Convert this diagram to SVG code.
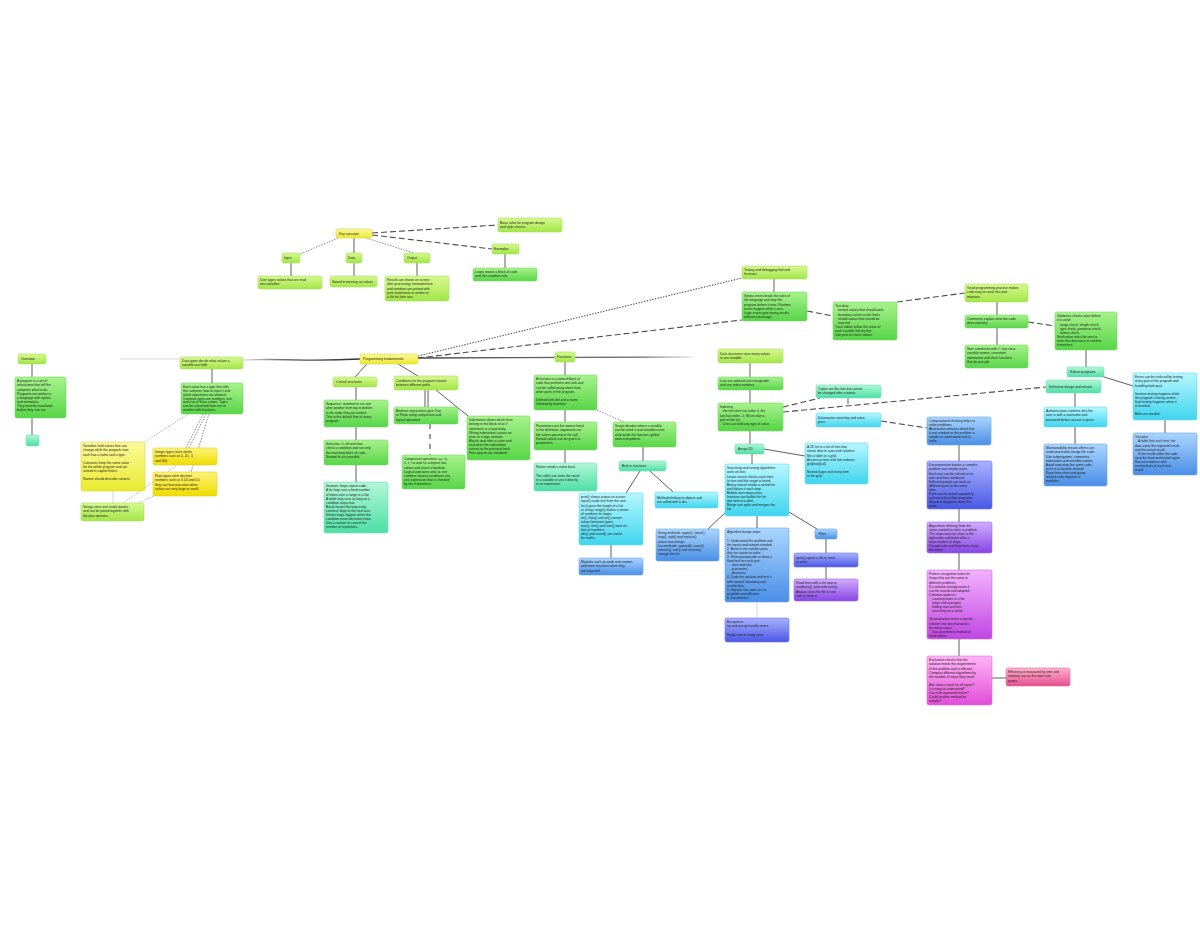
<svg xmlns="http://www.w3.org/2000/svg" width="1200" height="927" viewBox="0 0 1200 927">
<defs>
<linearGradient id="gYl" x1="0" y1="0" x2="0" y2="1"><stop offset="0" stop-color="#fbf99a"/><stop offset="1" stop-color="#eaea30"/></linearGradient>
<linearGradient id="gY2" x1="0" y1="0" x2="0" y2="1"><stop offset="0" stop-color="#fff37a"/><stop offset="1" stop-color="#eedc00"/></linearGradient>
<linearGradient id="gLm" x1="0" y1="0" x2="0" y2="1"><stop offset="0" stop-color="#d8f890"/><stop offset="1" stop-color="#a2e648"/></linearGradient>
<linearGradient id="gGr" x1="0" y1="0" x2="0" y2="1"><stop offset="0" stop-color="#a8f28c"/><stop offset="1" stop-color="#58d548"/></linearGradient>
<linearGradient id="gTl" x1="0" y1="0" x2="0" y2="1"><stop offset="0" stop-color="#b2f6d6"/><stop offset="1" stop-color="#4edfa6"/></linearGradient>
<linearGradient id="gCy" x1="0" y1="0" x2="0" y2="1"><stop offset="0" stop-color="#b8f7ff"/><stop offset="1" stop-color="#3fd5ee"/></linearGradient>
<linearGradient id="gBl" x1="0" y1="0" x2="0" y2="1"><stop offset="0" stop-color="#aad6ff"/><stop offset="1" stop-color="#4a8ee6"/></linearGradient>
<linearGradient id="gIn" x1="0" y1="0" x2="0" y2="1"><stop offset="0" stop-color="#aab2ff"/><stop offset="1" stop-color="#4a58e4"/></linearGradient>
<linearGradient id="gPu" x1="0" y1="0" x2="0" y2="1"><stop offset="0" stop-color="#d2acff"/><stop offset="1" stop-color="#8846e4"/></linearGradient>
<linearGradient id="gMg" x1="0" y1="0" x2="0" y2="1"><stop offset="0" stop-color="#f4b2ff"/><stop offset="1" stop-color="#c046e2"/></linearGradient>
<linearGradient id="gPm" x1="0" y1="0" x2="0" y2="1"><stop offset="0" stop-color="#ffb4f4"/><stop offset="1" stop-color="#e04ed6"/></linearGradient>
<linearGradient id="gPk" x1="0" y1="0" x2="0" y2="1"><stop offset="0" stop-color="#ffb2cc"/><stop offset="1" stop-color="#e44e90"/></linearGradient>
<linearGradient id="gFade" gradientUnits="userSpaceOnUse" x1="418" y1="0" x2="692" y2="0"><stop offset="0" stop-color="#444"/><stop offset="0.8" stop-color="#777"/><stop offset="1" stop-color="#e8e8e8"/></linearGradient>
<linearGradient id="gFade2" gradientUnits="userSpaceOnUse" x1="243" y1="0" x2="360" y2="0"><stop offset="0" stop-color="#ddd"/><stop offset="0.4" stop-color="#555"/><stop offset="1" stop-color="#333"/></linearGradient>
</defs>
<style>
rect{stroke-width:0.6}
.yl{fill:url(#gYl);stroke:#dcd640}
.y2{fill:url(#gY2);stroke:#e0d020}
.lm{fill:url(#gLm);stroke:#a6e060}
.gr{fill:url(#gGr);stroke:#74d862}
.tl{fill:url(#gTl);stroke:#70e0b4}
.cy{fill:url(#gCy);stroke:#60d8ee}
.bl{fill:url(#gBl);stroke:#6aa2ea}
.in{fill:url(#gIn);stroke:#6a74ea}
.pu{fill:url(#gPu);stroke:#9a66e8}
.mg{fill:url(#gMg);stroke:#c468e6}
.pm{fill:url(#gPm);stroke:#e06ad8}
.pk{fill:url(#gPk);stroke:#e46c9e}
text{font-family:"Liberation Sans",Arial,sans-serif;font-size:3.3px;fill:#1b1b1b}
#connectors path{fill:none;stroke:#4c4c4c;stroke-width:0.9}
#connectors .da{stroke-dasharray:6 3;stroke-width:1.1}
#connectors .dt{stroke-dasharray:1.4 1.4;stroke:#777}
#connectors .lt{stroke:#c8c8c8;stroke-width:0.7}
</style>
<rect x="0" y="0" width="1200" height="927" fill="#ffffff" stroke="none"/>

<g id="connectors">
<path class="da" d="M372,233 L498,225"/>
<path class="da" d="M372,235 L492,249"/>
<path class="dt" d="M338,238 L300,254"/>
<path d="M354,238 V253"/>
<path class="dt" d="M366,238 L414,253"/>
<path d="M291,263 V276"/>
<path d="M354,263 V276"/>
<path d="M417,263 V276"/>
<path d="M505,254 V268"/>
<path d="M32,364 V377"/>
<path d="M32,418 V435"/>
<path class="lt" d="M120,359 L180,359"/>
<path d="M212,369 V383"/>
<path d="M243,360 C290,358 300,362 360,359" style="stroke:url(#gFade2);stroke-width:1.3"/>
<path class="dt" d="M188,414 L143,443" style="stroke:#aaa"/>
<path class="dt" d="M203,414 L186,448"/>
<path class="dt" d="M206,414 L189,448"/>
<path class="dt" d="M209,414 L191,472"/>
<path class="dt" d="M176,466 L123,503" style="stroke:#aaa"/>
<path class="dt" d="M156,495 L138,503" style="stroke:#aaa"/>
<path class="lt" d="M113,491 V503"/>
<path d="M367,364 L355,377"/>
<path d="M398,364 L418,376"/>
<path d="M356,387 V400"/>
<path d="M356,427 V440"/>
<path d="M356,465 V482"/>
<path d="M425,390 V407"/>
<path d="M428,390 V407"/>
<path d="M436,390 L468,416"/>
<path class="da" d="M430,424 V455" style="stroke-dasharray:5 5"/>
<path class="dt" d="M418,356 L742,278" style="stroke-width:1.1;stroke:#555"/>
<path class="da" d="M418,358 L742,320"/>
<path d="M418,358 L692,357" style="stroke:url(#gFade);stroke-width:1.3"/>
<path d="M565,362 V375"/>
<path d="M565,410 V422"/>
<path d="M565,450 V463"/>
<path class="dt" d="M597,410 L624,422"/>
<path d="M643,447 V461"/>
<path d="M640,471 L626,493"/>
<path d="M650,471 L673,492"/>
<path d="M611,545 V558"/>
<path d="M774,279 V292"/>
<path class="da" d="M807,311 L833,316"/>
<path class="da" d="M897,302 L965,293"/>
<path d="M750,363 V377"/>
<path d="M750,390 V403"/>
<path d="M750,431 V444"/>
<path class="da" d="M783,407 L820,398"/>
<path class="da" d="M783,412 L1046,387"/>
<path d="M848,398 V404"/>
<path class="da" d="M881,421 L927,428"/>
<path d="M764,449 L805,456"/>
<path d="M752,454 V464"/>
<path d="M727,511 L708,529"/>
<path d="M757,516 V528"/>
<path d="M789,512 L817,529"/>
<path d="M826,539 V553"/>
<path d="M826,567 V579"/>
<path class="lt" d="M757,602 V618"/>
<path d="M997,302 V315"/>
<path d="M997,328 V345"/>
<path class="da" d="M1028,322 L1055,326"/>
<path d="M1086,350 V367"/>
<path d="M1101,376 L1133,386"/>
<path d="M1075,393 V407"/>
<path d="M1075,427 V444"/>
<path d="M1165,420 V433"/>
<path d="M959,445 V461"/>
<path d="M959,509 V522"/>
<path d="M959,553 V570"/>
<path d="M959,639 V656"/>
<path d="M992,678 L1006,678"/>
</g>

<g id="n1"><rect x="336" y="229" width="36" height="9" rx="2" class="yl"/><text x="339" y="234.8">Key concepts</text></g>
<g id="n2"><rect x="498" y="218" width="64" height="14" rx="2" class="lm"/><text x="500" y="223.5"><tspan x="500">Basic rules for program design</tspan><tspan x="500" dy="4.1">and style choices</tspan></text></g>
<g id="n3"><rect x="492" y="244" width="27" height="10" rx="2" class="lm"/><text x="494" y="250.2">Examples</text></g>
<g id="n4"><rect x="473" y="268" width="64" height="13" rx="2" class="gr"/><text x="475" y="273.3"><tspan x="475">Loops repeat a block of code</tspan><tspan x="475" dy="4.1">until the condition fails</tspan></text></g>
<g id="n5"><rect x="282" y="253" width="18" height="10" rx="2" class="lm"/><text x="284" y="259.2">Input</text></g>
<g id="n6"><rect x="346" y="253" width="16" height="10" rx="2" class="lm"/><text x="348" y="259.2">Data</text></g>
<g id="n7"><rect x="404" y="253" width="26" height="10" rx="2" class="lm"/><text x="407" y="259.2">Output</text></g>
<g id="n8"><rect x="258" y="276" width="64" height="13" rx="2" class="lm"/><text x="260" y="281.3"><tspan x="260">User types values that are read</tspan><tspan x="260" dy="4.1">into variables</tspan></text></g>
<g id="n9"><rect x="330" y="276" width="47" height="11" rx="2" class="lm"/><text x="332" y="282.6">Stored in memory as values</text></g>
<g id="n10"><rect x="385" y="276" width="64" height="25" rx="2" class="lm"/><text x="387" y="281.3"><tspan x="387">Results are shown on screen</tspan><tspan x="387" dy="4.1">after processing; formatted text</tspan><tspan x="387" dy="4.1">and numbers are printed with</tspan><tspan x="387" dy="4.1">print statements or written to</tspan><tspan x="387" dy="4.1">a file for later use.</tspan></text></g>

<g id="n11"><rect x="18" y="354" width="28" height="10" rx="2" class="lm"/><text x="21" y="360.2">Overview</text></g>
<g id="n12"><rect x="15" y="377" width="51" height="41" rx="2" class="gr"/><text x="17" y="382.3"><tspan x="17">A program is a set of</tspan><tspan x="17" dy="4.1">instructions that tell the</tspan><tspan x="17" dy="4.1">computer what to do.</tspan><tspan x="17" dy="4.1">Programs are written in</tspan><tspan x="17" dy="4.1">a language with syntax</tspan><tspan x="17" dy="4.1">and semantics.</tspan><tspan x="17" dy="4.1">They must be translated</tspan><tspan x="17" dy="4.1">before they can run.</tspan></text></g>
<g id="n13"><rect x="26" y="435" width="13" height="11" rx="2" class="tl"/></g>
<g id="n14"><rect x="81" y="442" width="64" height="49" rx="2" class="yl"/><text x="83" y="447.3"><tspan x="83">Variables hold values that can</tspan><tspan x="83" dy="4.1">change while the program runs;</tspan><tspan x="83" dy="4.1">each has a name and a type.</tspan><tspan x="83" dy="8.2">Constants keep the same value</tspan><tspan x="83" dy="4.1">for the whole program and are</tspan><tspan x="83" dy="4.1">named in capital letters.</tspan><tspan x="83" dy="8.2">Names should describe content.</tspan></text></g>
<g id="n15"><rect x="153" y="448" width="64" height="17" rx="2" class="y2"/><text x="155" y="453.3"><tspan x="155">Integer types store whole</tspan><tspan x="155" dy="4.1">numbers such as 1, 20, -5</tspan><tspan x="155" dy="4.1">and 300.</tspan></text></g>
<g id="n16"><rect x="153" y="472" width="64" height="24" rx="2" class="y2"/><text x="155" y="477.3"><tspan x="155">Float types store decimal</tspan><tspan x="155" dy="4.1">numbers such as 3.14 and 0.5;</tspan><tspan x="155" dy="4.1">they can lose precision when</tspan><tspan x="155" dy="4.1">values are very large or small.</tspan></text></g>
<g id="n17"><rect x="81" y="503" width="63" height="18" rx="2" class="lm"/><text x="83" y="508.3"><tspan x="83">Strings store text inside quotes</tspan><tspan x="83" dy="4.1">and can be joined together with</tspan><tspan x="83" dy="4.1">the plus operator.</tspan></text></g>
<g id="n18"><rect x="180" y="357" width="63" height="12" rx="2" class="lm"/><text x="182" y="362"><tspan x="182">Data types decide what values a</tspan><tspan x="182" dy="4.1">variable can hold</tspan></text></g>
<g id="n19"><rect x="181" y="383" width="62" height="31" rx="2" class="gr"/><text x="183" y="387.8"><tspan x="183">Each value has a type that tells</tspan><tspan x="183" dy="3.9">the computer how to store it and</tspan><tspan x="183" dy="3.9">which operations are allowed.</tspan><tspan x="183" dy="3.9">Common types are numbers, text,</tspan><tspan x="183" dy="3.9">and true or false values. Types</tspan><tspan x="183" dy="3.9">can be converted from one to</tspan><tspan x="183" dy="3.9">another with functions.</tspan></text></g>

<g id="n20"><rect x="360" y="354" width="58" height="10" rx="2" class="yl"/><text x="363" y="360.2">Programming fundamentals</text></g>
<g id="n21"><rect x="333" y="377" width="44" height="10" rx="2" class="lm"/><text x="336" y="383.2">Control structures</text></g>
<g id="n22"><rect x="394" y="376" width="64" height="14" rx="2" class="lm"/><text x="396" y="381.5"><tspan x="396">Conditions let the program choose</tspan><tspan x="396" dy="4.1">between different paths</tspan></text></g>
<g id="n23"><rect x="324" y="400" width="64" height="27" rx="2" class="gr"/><text x="326" y="405.3"><tspan x="326">Sequence: statements run one</tspan><tspan x="326" dy="4.1">after another from top to bottom</tspan><tspan x="326" dy="4.1">in the order they are written.</tspan><tspan x="326" dy="4.1">This is the default flow of every</tspan><tspan x="326" dy="4.1">program.</tspan></text></g>
<g id="n24"><rect x="324" y="440" width="64" height="25" rx="2" class="gr"/><text x="326" y="445.3"><tspan x="326">Selection: if, elif and else</tspan><tspan x="326" dy="4.1">check a condition and run only</tspan><tspan x="326" dy="4.1">the matching block of code.</tspan><tspan x="326" dy="4.1">Nested ifs are possible.</tspan></text></g>
<g id="n25"><rect x="324" y="482" width="64" height="51" rx="2" class="tl"/><text x="326" y="487.3"><tspan x="326">Iteration: loops repeat code.</tspan><tspan x="326" dy="4.1">A for loop runs a fixed number</tspan><tspan x="326" dy="4.1">of times over a range or a list.</tspan><tspan x="326" dy="4.1">A while loop runs as long as a</tspan><tspan x="326" dy="4.1">condition stays true.</tspan><tspan x="326" dy="4.1">Break leaves the loop early;</tspan><tspan x="326" dy="4.1">continue skips to the next turn.</tspan><tspan x="326" dy="4.1">Infinite loops happen when the</tspan><tspan x="326" dy="4.1">condition never becomes false.</tspan><tspan x="326" dy="4.1">Use a counter to control the</tspan><tspan x="326" dy="4.1">number of repetitions.</tspan></text></g>
<g id="n26"><rect x="394" y="407" width="64" height="17" rx="2" class="gr"/><text x="396" y="412.3"><tspan x="396">Boolean expressions give True</tspan><tspan x="396" dy="4.1">or False using comparison and</tspan><tspan x="396" dy="4.1">logical operators</tspan></text></g>
<g id="n27"><rect x="402" y="455" width="63" height="34" rx="2" class="gr"/><text x="404" y="460.3"><tspan x="404">Comparison operators: ==, !=,</tspan><tspan x="404" dy="4.1">&lt;, &gt;, &lt;= and &gt;= compare two</tspan><tspan x="404" dy="4.1">values and return a boolean.</tspan><tspan x="404" dy="4.1">Logical operators and, or, not</tspan><tspan x="404" dy="4.1">combine several conditions into</tspan><tspan x="404" dy="4.1">one expression that is checked</tspan><tspan x="404" dy="4.1">by the if statement.</tspan></text></g>
<g id="n28"><rect x="467" y="416" width="63" height="44" rx="2" class="gr"/><text x="469" y="421.3"><tspan x="469">Indentation shows which lines</tspan><tspan x="469" dy="4.1">belong to the block of an if</tspan><tspan x="469" dy="4.1">statement or a loop body.</tspan><tspan x="469" dy="4.1">Wrong indentation causes an</tspan><tspan x="469" dy="4.1">error or a logic mistake.</tspan><tspan x="469" dy="4.1">Blocks start after a colon and</tspan><tspan x="469" dy="4.1">end when the indentation</tspan><tspan x="469" dy="4.1">returns to the previous level.</tspan><tspan x="469" dy="4.1">Four spaces are standard.</tspan></text></g>

<g id="n29"><rect x="555" y="352" width="20" height="10" rx="2" class="lm"/><text x="557" y="358.2">Functions</text></g>
<g id="n30"><rect x="534" y="375" width="63" height="35" rx="2" class="gr"/><text x="536" y="380.3"><tspan x="536">A function is a named block of</tspan><tspan x="536" dy="4.1">code that performs one task and</tspan><tspan x="536" dy="4.1">can be called many times from</tspan><tspan x="536" dy="4.1">other parts of the program.</tspan><tspan x="536" dy="8.2">Defined with def and a name</tspan><tspan x="536" dy="4.1">followed by brackets.</tspan></text></g>
<g id="n31"><rect x="534" y="422" width="63" height="28" rx="2" class="gr"/><text x="536" y="427.3"><tspan x="536">Parameters are the names listed</tspan><tspan x="536" dy="4.1">in the definition; arguments are</tspan><tspan x="536" dy="4.1">the values passed in the call.</tspan><tspan x="536" dy="4.1">Default values can be given to</tspan><tspan x="536" dy="4.1">parameters.</tspan></text></g>
<g id="n32"><rect x="534" y="463" width="63" height="28" rx="2" class="tl"/><text x="536" y="468.3"><tspan x="536">Return sends a value back</tspan><tspan x="536" dy="8.2">The caller can store the result</tspan><tspan x="536" dy="4.1">in a variable or use it directly</tspan><tspan x="536" dy="4.1">in an expression.</tspan></text></g>
<g id="n33"><rect x="613" y="422" width="63" height="25" rx="2" class="gr"/><text x="615" y="427.3"><tspan x="615">Scope decides where a variable</tspan><tspan x="615" dy="4.1">can be used. Local variables exist</tspan><tspan x="615" dy="4.1">only inside the function; global</tspan><tspan x="615" dy="4.1">ones everywhere.</tspan></text></g>
<g id="n34"><rect x="619" y="461" width="47" height="10" rx="2" class="tl"/><text x="622" y="467.2">Built-in functions</text></g>
<g id="n35"><rect x="579" y="493" width="64" height="52" rx="2" class="cy"/><text x="581" y="498.3"><tspan x="581">print() shows output on screen</tspan><tspan x="581" dy="4.1">input() reads text from the user</tspan><tspan x="581" dy="4.1">len() gives the length of a list</tspan><tspan x="581" dy="4.1">or string; range() makes a series</tspan><tspan x="581" dy="4.1">of numbers for loops.</tspan><tspan x="581" dy="4.1">int(), float() and str() convert</tspan><tspan x="581" dy="4.1">values between types.</tspan><tspan x="581" dy="4.1">max(), min() and sum() work on</tspan><tspan x="581" dy="4.1">lists of numbers.</tspan><tspan x="581" dy="4.1">abs() and round() are useful</tspan><tspan x="581" dy="4.1">for maths.</tspan></text></g>
<g id="n36"><rect x="579" y="558" width="64" height="17" rx="2" class="bl"/><text x="581" y="563.3"><tspan x="581">Modules such as math and random</tspan><tspan x="581" dy="4.1">add more functions when they</tspan><tspan x="581" dy="4.1">are imported.</tspan></text></g>
<g id="n37"><rect x="655" y="492" width="63" height="16" rx="2" class="cy"/><text x="657" y="498.5"><tspan x="657">Methods belong to objects and</tspan><tspan x="657" dy="4.1">are called with a dot.</tspan></text></g>
<g id="n38"><rect x="656" y="529" width="63" height="32" rx="2" class="bl"/><text x="658" y="534.3"><tspan x="658">String methods: upper(), lower(),</tspan><tspan x="658" dy="4.1">strip(), split() and replace()</tspan><tspan x="658" dy="4.1">return new strings.</tspan><tspan x="658" dy="4.1">List methods: append(), insert(),</tspan><tspan x="658" dy="4.1">remove(), sort() and reverse()</tspan><tspan x="658" dy="4.1">change the list.</tspan></text></g>

<g id="n39"><rect x="742" y="266" width="65" height="13" rx="2" class="lm"/><text x="744" y="271.3"><tspan x="744">Testing and debugging find and</tspan><tspan x="744" dy="4.1">fix errors</tspan></text></g>
<g id="n40"><rect x="742" y="292" width="65" height="29" rx="2" class="gr"/><text x="744" y="297.3"><tspan x="744">Syntax errors break the rules of</tspan><tspan x="744" dy="4.1">the language and stop the</tspan><tspan x="744" dy="4.1">program before it runs. Runtime</tspan><tspan x="744" dy="4.1">errors happen while it runs.</tspan><tspan x="744" dy="4.1">Logic errors give wrong results</tspan><tspan x="744" dy="4.1">without a message.</tspan></text></g>
<g id="n41"><rect x="833" y="302" width="64" height="38" rx="2" class="gr"/><text x="835" y="307.3"><tspan x="835">Test data:</tspan><tspan x="838" dy="4.1">normal values that should work</tspan><tspan x="838" dy="4.1">boundary values at the limits</tspan><tspan x="838" dy="4.1">invalid values that should be</tspan><tspan x="838" dy="4.1">rejected</tspan><tspan x="835" dy="4.1">Trace tables follow the value of</tspan><tspan x="835" dy="4.1">each variable line by line.</tspan><tspan x="835" dy="4.1">Use print to check values.</tspan></text></g>
<g id="n42"><rect x="718" y="349" width="65" height="14" rx="2" class="lm"/><text x="720" y="354.5"><tspan x="720">Data structures store many values</tspan><tspan x="720" dy="4.1">in one variable</tspan></text></g>
<g id="n43"><rect x="718" y="377" width="65" height="13" rx="2" class="gr"/><text x="720" y="382.3"><tspan x="720">Lists are ordered and changeable</tspan><tspan x="720" dy="4.1">and use index numbers</tspan></text></g>
<g id="n44"><rect x="718" y="403" width="65" height="28" rx="2" class="gr"/><text x="720" y="408.3"><tspan x="720">Indexing:</tspan><tspan x="723" dy="4.1">the first item has index 0, the</tspan><tspan x="720" dy="4.1">last has index -1. Slices take a</tspan><tspan x="720" dy="4.1">part of the list.</tspan><tspan x="723" dy="4.1">Lists can hold any type of value.</tspan></text></g>
<g id="n45"><rect x="735" y="444" width="29" height="10" rx="2" class="tl"/><text x="738" y="450.2">Arrays 2D</text></g>
<g id="n46"><rect x="816" y="385" width="65" height="13" rx="2" class="tl"/><text x="818" y="390.3"><tspan x="818">Tuples are like lists but cannot</tspan><tspan x="818" dy="4.1">be changed after creation</tspan></text></g>
<g id="n47"><rect x="816" y="413" width="65" height="14" rx="2" class="cy"/><text x="818" y="418.5"><tspan x="818">Dictionaries store key and value</tspan><tspan x="818" dy="4.1">pairs</tspan></text></g>
<g id="n48"><rect x="805" y="443" width="63" height="41" rx="2" class="cy"/><text x="807" y="448.3"><tspan x="807">A 2D list is a list of lists that</tspan><tspan x="807" dy="4.1">stores data in rows and columns</tspan><tspan x="807" dy="4.1">like a table or a grid.</tspan><tspan x="807" dy="4.1">Access an item with two indexes:</tspan><tspan x="807" dy="4.1">grid[row][col].</tspan><tspan x="807" dy="8.2">Nested loops visit every item</tspan><tspan x="807" dy="4.1">in the grid.</tspan></text></g>
<g id="n49"><rect x="725" y="464" width="64" height="52" rx="2" class="cy"/><text x="727" y="469.3"><tspan x="727">Searching and sorting algorithms</tspan><tspan x="727" dy="4.1">work on lists:</tspan><tspan x="727" dy="4.1">Linear search checks each item</tspan><tspan x="727" dy="4.1">in turn until the target is found.</tspan><tspan x="727" dy="4.1">Binary search needs a sorted list</tspan><tspan x="727" dy="4.1">and halves it each step.</tspan><tspan x="727" dy="4.1">Bubble sort swaps pairs.</tspan><tspan x="727" dy="4.1">Insertion sort builds the list</tspan><tspan x="727" dy="4.1">one item at a time.</tspan><tspan x="727" dy="4.1">Merge sort splits and merges the</tspan><tspan x="727" dy="4.1">list.</tspan></text></g>
<g id="n50"><rect x="725" y="528" width="64" height="74" rx="2" class="bl"/><text x="727" y="533.3"><tspan x="727">Algorithm design steps</tspan><tspan x="727" dy="8.2">1. Understand the problem and</tspan><tspan x="727" dy="4.1">the inputs and outputs needed.</tspan><tspan x="727" dy="4.1">2. Break it into smaller parts</tspan><tspan x="727" dy="4.1">that are easier to solve.</tspan><tspan x="727" dy="4.1">3. Write pseudocode or draw a</tspan><tspan x="727" dy="4.1">flowchart for each part:</tspan><tspan x="730" dy="4.1">- start and end</tspan><tspan x="730" dy="4.1">- processes</tspan><tspan x="730" dy="4.1">- decisions</tspan><tspan x="727" dy="4.1">4. Code the solution and test it</tspan><tspan x="727" dy="4.1">with normal, boundary and</tspan><tspan x="727" dy="4.1">invalid data.</tspan><tspan x="727" dy="4.1">5. Improve the code so it is</tspan><tspan x="727" dy="4.1">readable and efficient.</tspan><tspan x="727" dy="4.1">6. Document it.</tspan></text></g>
<g id="n51"><rect x="815" y="529" width="22" height="10" rx="2" class="bl"/><text x="819" y="535.2">Files</text></g>
<g id="n52"><rect x="794" y="553" width="64" height="14" rx="2" class="in"/><text x="796" y="558.5"><tspan x="796">open() opens a file to read</tspan><tspan x="796" dy="4.1">or write</tspan></text></g>
<g id="n53"><rect x="794" y="579" width="64" height="22" rx="2" class="pu"/><text x="796" y="584.3"><tspan x="796">Read lines with a for loop or</tspan><tspan x="796" dy="4.1">readlines(); write with write().</tspan><tspan x="796" dy="4.1">Always close the file or use</tspan><tspan x="796" dy="4.1">with to close it.</tspan></text></g>
<g id="n54"><rect x="725" y="618" width="64" height="24" rx="2" class="in"/><text x="727" y="623.3"><tspan x="727">Exceptions</tspan><tspan x="727" dy="4.1">try and except handle errors</tspan><tspan x="727" dy="8.2">finally runs in every case.</tspan></text></g>

<g id="n55"><rect x="965" y="284" width="63" height="18" rx="2" class="lm"/><text x="967" y="289.3"><tspan x="967">Good programming practice makes</tspan><tspan x="967" dy="4.1">code easy to read, test and</tspan><tspan x="967" dy="4.1">maintain.</tspan></text></g>
<g id="n56"><rect x="965" y="315" width="63" height="13" rx="2" class="gr"/><text x="967" y="320.3"><tspan x="967">Comments explain what the code</tspan><tspan x="967" dy="4.1">does and why</tspan></text></g>
<g id="n57"><rect x="965" y="345" width="63" height="23" rx="2" class="gr"/><text x="967" y="350.3"><tspan x="967">Start comments with #. Use clear</tspan><tspan x="967" dy="4.1">variable names, consistent</tspan><tspan x="967" dy="4.1">indentation and short functions</tspan><tspan x="967" dy="4.1">that do one job.</tspan></text></g>
<g id="n58"><rect x="1055" y="312" width="62" height="38" rx="2" class="gr"/><text x="1057" y="317.3"><tspan x="1057">Validation checks input before</tspan><tspan x="1057" dy="4.1">it is used:</tspan><tspan x="1060" dy="4.1">range check, length check,</tspan><tspan x="1060" dy="4.1">type check, presence check,</tspan><tspan x="1060" dy="4.1">format check.</tspan><tspan x="1057" dy="4.1">Verification asks the user to</tspan><tspan x="1057" dy="4.1">enter the data twice to confirm</tspan><tspan x="1057" dy="4.1">it matches.</tspan></text></g>
<g id="n59"><rect x="1067" y="367" width="37" height="10" rx="2" class="tl"/><text x="1070" y="373.2">Robust programs</text></g>
<g id="n60"><rect x="1046" y="380" width="55" height="13" rx="2" class="tl"/><text x="1049" y="387.6">Defensive design and misuse</text></g>
<g id="n61"><rect x="1044" y="407" width="63" height="20" rx="2" class="cy"/><text x="1046" y="412.3"><tspan x="1046">Authentication confirms who the</tspan><tspan x="1046" dy="4.1">user is with a username and</tspan><tspan x="1046" dy="4.1">password before access is given.</tspan></text></g>
<g id="n62"><rect x="1044" y="444" width="63" height="42" rx="2" class="bl"/><text x="1046" y="449.3"><tspan x="1046">Maintainability means others can</tspan><tspan x="1046" dy="4.1">understand and change the code.</tspan><tspan x="1046" dy="4.1">Use subprograms, comments,</tspan><tspan x="1046" dy="4.1">indentation and sensible names.</tspan><tspan x="1046" dy="4.1">Avoid repeating the same code;</tspan><tspan x="1046" dy="4.1">put it in a function instead.</tspan><tspan x="1046" dy="4.1">Keep lines short and group</tspan><tspan x="1046" dy="4.1">related code together in</tspan><tspan x="1046" dy="4.1">modules.</tspan></text></g>
<g id="n63"><rect x="1133" y="373" width="64" height="47" rx="2" class="cy"/><text x="1135" y="378.3"><tspan x="1135">Errors can be reduced by testing</tspan><tspan x="1135" dy="4.1">every part of the program and</tspan><tspan x="1135" dy="4.1">handling bad input.</tspan><tspan x="1135" dy="8.2">Iterative testing happens while</tspan><tspan x="1135" dy="4.1">the program is being written;</tspan><tspan x="1135" dy="4.1">final testing happens when it</tspan><tspan x="1135" dy="4.1">is finished.</tspan><tspan x="1135" dy="8.2">Both are needed.</tspan></text></g>
<g id="n64"><rect x="1133" y="433" width="64" height="42" rx="2" class="bl"/><text x="1135" y="438.3"><tspan x="1135">Test plan</tspan><tspan x="1138" dy="4.1">A table lists each test, the</tspan><tspan x="1135" dy="4.1">data used, the expected result</tspan><tspan x="1135" dy="4.1">and the actual result.</tspan><tspan x="1138" dy="4.1">If the results differ the code</tspan><tspan x="1135" dy="4.1">must be fixed and tested again.</tspan><tspan x="1135" dy="4.1">Record evidence with</tspan><tspan x="1135" dy="4.1">screenshots of each test</tspan><tspan x="1135" dy="4.1">result.</tspan></text></g>
<g id="n65"><rect x="927" y="417" width="64" height="28" rx="2" class="bl"/><text x="929" y="421.8"><tspan x="929">Computational thinking helps to</tspan><tspan x="929" dy="4">solve problems:</tspan><tspan x="929" dy="4">Abstraction removes detail that</tspan><tspan x="929" dy="4">is not needed so the problem is</tspan><tspan x="929" dy="4">simpler to understand and to</tspan><tspan x="929" dy="4">solve.</tspan></text></g>
<g id="n66"><rect x="927" y="461" width="65" height="48" rx="2" class="in"/><text x="929" y="466.3"><tspan x="929">Decomposition breaks a complex</tspan><tspan x="929" dy="4.1">problem into smaller parts.</tspan><tspan x="929" dy="4.1">Each part can be solved on its</tspan><tspan x="929" dy="4.1">own and then combined.</tspan><tspan x="929" dy="4.1">Different people can work on</tspan><tspan x="929" dy="4.1">different parts at the same</tspan><tspan x="929" dy="4.1">time.</tspan><tspan x="929" dy="4.1">Parts can be tested separately</tspan><tspan x="929" dy="4.1">and reused in other programs.</tspan><tspan x="929" dy="4.1">Structure diagrams show the</tspan><tspan x="929" dy="4.1">parts.</tspan></text></g>
<g id="n67"><rect x="927" y="522" width="65" height="31" rx="2" class="pu"/><text x="929" y="527"><tspan x="929">Algorithmic thinking finds the</tspan><tspan x="929" dy="4">steps needed to solve a problem.</tspan><tspan x="929" dy="4">The steps must be clear, in the</tspan><tspan x="929" dy="4">right order and finish after a</tspan><tspan x="929" dy="4">finite number of steps.</tspan><tspan x="929" dy="4">Pseudocode and flowcharts show</tspan><tspan x="929" dy="4">the steps.</tspan></text></g>
<g id="n68"><rect x="927" y="570" width="65" height="69" rx="2" class="mg"/><text x="929" y="575.3"><tspan x="929">Pattern recognition looks for</tspan><tspan x="929" dy="4.1">things that are the same in</tspan><tspan x="929" dy="4.1">different problems.</tspan><tspan x="929" dy="4.1">If a solution already exists it</tspan><tspan x="929" dy="4.1">can be reused and adapted.</tspan><tspan x="929" dy="4.1">Common patterns:</tspan><tspan x="932" dy="4.1">counting items in a list</tspan><tspan x="932" dy="4.1">totals and averages</tspan><tspan x="932" dy="4.1">finding max and min</tspan><tspan x="932" dy="4.1">searching for a value</tspan><tspan x="929" dy="8.2">Generalisation turns a specific</tspan><tspan x="929" dy="4.1">solution into one that works</tspan><tspan x="929" dy="4.1">for many cases.</tspan><tspan x="932" dy="4.1">Use parameters instead of</tspan><tspan x="929" dy="4.1">fixed values.</tspan></text></g>
<g id="n69"><rect x="927" y="656" width="65" height="49" rx="2" class="pm"/><text x="929" y="661.3"><tspan x="929">Evaluation checks that the</tspan><tspan x="929" dy="4.1">solution meets the requirements</tspan><tspan x="929" dy="4.1">of the problem and is efficient.</tspan><tspan x="929" dy="4.1">Compare different algorithms by</tspan><tspan x="929" dy="4.1">the number of steps they need.</tspan><tspan x="929" dy="8.2">Ask: does it work for all inputs?</tspan><tspan x="929" dy="4.1">Is it easy to understand?</tspan><tspan x="929" dy="4.1">Can it be improved further?</tspan><tspan x="929" dy="4.1">Could another method be</tspan><tspan x="929" dy="4.1">simpler?</tspan></text></g>
<g id="n70"><rect x="1006" y="668" width="64" height="18" rx="2" class="pk"/><text x="1008" y="673.3"><tspan x="1008">Efficiency is measured by time and</tspan><tspan x="1008" dy="4.1">memory use as the input size</tspan><tspan x="1008" dy="4.1">grows.</tspan></text></g>
</svg>
